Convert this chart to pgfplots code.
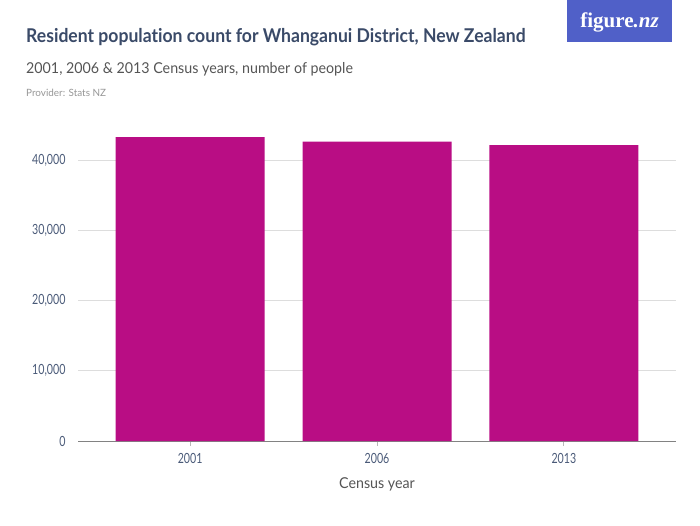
\documentclass[border=0pt]{standalone}
\usepackage{pgfplots}
\pgfplotsset{compat=1.18}
\usepackage{fontspec}
\setmainfont{Lato}[FakeStretch=0.95, Ligatures=NoCommon]
\newfontfamily\titlefont{Lato}[FakeStretch=0.925, Ligatures=NoCommon]
\newfontfamily\tickfont{Lato}[FakeStretch=0.76]
\newfontfamily\provfont{Lato}[FakeStretch=0.99]
\newfontfamily\logofont{Liberation Serif}
\definecolor{barcol}{RGB}{185,13,132}
\definecolor{titlecol}{RGB}{58,74,104}
\definecolor{subcol}{RGB}{85,85,85}
\definecolor{provcol}{RGB}{150,150,150}
\definecolor{tickcol}{RGB}{74,90,120}
\definecolor{logoblue}{RGB}{80,96,200}
\definecolor{gridcol}{RGB}{221,221,221}
\definecolor{axiscol}{RGB}{130,130,130}

\begin{document}
\begin{tikzpicture}
\path[use as bounding box] (0pt,0pt) rectangle (700pt,525pt);
% logo
\fill[logoblue] (567pt,525pt) rectangle (672pt,483pt);
\node[anchor=base, text=white, inner sep=0pt,
      font=\logofont\bfseries\fontsize{21}{21}\selectfont] at (619.5pt,497pt) {figure\textit{.nz}};
% headings
\node[anchor=base west, inner sep=0pt, text=titlecol,
      font=\titlefont\bfseries\fontsize{19}{19}\selectfont] at (26pt,482pt) {Resident population count for Whanganui District, New Zealand};
\node[anchor=base west, inner sep=0pt, text=subcol,
      font=\fontsize{15}{15}\selectfont] at (26pt,451pt) {2001, 2006 \& 2013 Census years, number of people};
\node[anchor=base west, inner sep=0pt, text=provcol,
      font=\provfont\fontsize{10}{10}\selectfont] at (26pt,428pt) {Provider: Stats NZ};
\begin{axis}[
  at={(78pt,84pt)}, anchor=south west,
  scale only axis, width=598pt, height=316pt,
  xmin=-0.6, xmax=2.6, ymin=0, ymax=45000,
  axis x line*=bottom, axis y line*=left,
  y axis line style={draw=none},
  x axis line style={-, draw=axiscol, line width=1pt},
  xtick={0,1,2}, xticklabels={2001,2006,2013},
  ytick={0,10000,20000,30000,40000},
  ymajorgrids, grid style={draw=gridcol, line width=0.8pt},
  ytick style={draw=none},
  xtick style={draw=gridcol!60!gray, line width=1pt},
  major tick length=5pt, tick align=outside,
  /pgf/number format/assume math mode=true,
  /pgf/number format/1000 sep={,},
  scaled y ticks=false,
  ticklabel style={font=\tickfont\fontsize{14}{14}\selectfont, text=tickcol},
  yticklabel style={xshift=-4pt},
  xticklabel style={yshift=-4pt},
  xlabel={Census year},
  xlabel style={font=\fontsize{15}{15}\selectfont, text=subcol, yshift=-7pt},
  ybar, bar width=149pt,
]
\addplot[fill=barcol, draw=none] coordinates {(0,43266) (1,42636) (2,42150)};
\end{axis}
\end{tikzpicture}
\end{document}
